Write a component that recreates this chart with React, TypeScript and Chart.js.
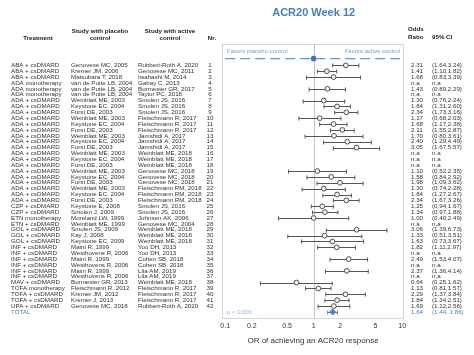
import { useEffect, useRef } from "react";
import { Chart, registerables } from "chart.js";

Chart.register(...registerables);

const FONT = '"Liberation Sans", Arial, sans-serif';

const chartTitle = "ACR20 Week 12";
const xAxisTitle = "OR of achieving an ACR20 response";
const xTickValues = [0.1, 0.2, 0.5, 1, 2, 5, 10];

const treatments = [
  "ABA + csDMARD", "ABA + csDMARD", "ABA + csDMARD",
  "ADA monotherapy", "ADA monotherapy", "ADA monotherapy",
  "ADA + csDMARD", "ADA + csDMARD", "ADA + csDMARD",
  "ADA + csDMARD", "ADA + csDMARD", "ADA + csDMARD",
  "ADA + csDMARD", "ADA + csDMARD", "ADA + csDMARD",
  "ADA + csDMARD", "ADA + csDMARD", "ADA + csDMARD",
  "ADA + csDMARD", "ADA + csDMARD", "ADA + csDMARD",
  "ADA + csDMARD", "ADA + csDMARD", "ADA + csDMARD",
  "CZP + csDMARD", "CZP + csDMARD",
  "ETN monotherapy", "ETN + csDMARD",
  "GOL + csDMARD", "GOL + csDMARD", "GOL + csDMARD",
  "INF + csDMARD", "INF + csDMARD", "INF + csDMARD",
  "INF + csDMARD", "INF + csDMARD", "INF + csDMARD",
  "MAV + csDMARD", "TOFA monotherapy", "TOFA + csDMARD",
  "TOFA + csDMARD", "UPA + csDMARD",
];

const placeboStudies = [
  "Genovese MC, 2005", "Kremer JM, 2006", "Matsubara T, 2018",
  "van de Putte LB, 2004", "van de Putte LB, 2004", "van de Putte LB, 2004",
  "Weinblatt ME, 2003", "Keystone EC, 2004", "Furst DE, 2003",
  "Weinblatt ME, 2003", "Keystone EC, 2004", "Furst DE, 2003",
  "Weinblatt ME, 2003", "Keystone EC, 2004", "Furst DE, 2003",
  "Weinblatt ME, 2003", "Keystone EC, 2004", "Furst DE, 2003",
  "Weinblatt ME, 2003", "Keystone EC, 2004", "Furst DE, 2003",
  "Weinblatt ME, 2003", "Keystone EC, 2004", "Furst DE, 2003",
  "Keystone E, 2008", "Smolen J, 2009",
  "Moreland LW, 1999", "Weinblatt ME, 1999",
  "Smolen JS, 2009", "Kay J, 2008", "Keystone EC, 2009",
  "Maini R, 1999", "Westhovens R, 2006", "Maini R, 1999",
  "Westhovens R, 2006", "Maini R, 1999", "Westhovens R, 2006",
  "Burmester GR, 2013", "Fleischmann R, 2012", "Kremer JM, 2012",
  "Kremer J, 2013", "Genovese MC, 2018",
];

const activeStudies = [
  "Rubbert-Roth A, 2020", "Genovese MC, 2011", "Iwahashi M, 2014",
  "Gabay C, 2013", "Burmester GR, 2017", "Taylor PC, 2018",
  "Smolen JS, 2016", "Smolen JS, 2016", "Smolen JS, 2016",
  "Fleischmann R, 2017", "Fleischmann R, 2017", "Fleischmann R, 2017",
  "Jamshidi A, 2017", "Jamshidi A, 2017", "Jamshidi A, 2017",
  "Weinblatt ME, 2018", "Weinblatt ME, 2018", "Weinblatt ME, 2018",
  "Genovese MC, 2018", "Genovese MC, 2018", "Genovese MC, 2018",
  "Fleischmann RM, 2018", "Fleischmann RM, 2018", "Fleischmann RM, 2018",
  "Smolen JS, 2016", "Smolen JS, 2016",
  "Johnsen AK, 2006", "Genovese MC, 2004",
  "Weinblatt ME, 2018", "Weinblatt ME, 2018", "Weinblatt ME, 2018",
  "Yoo DH, 2013", "Yoo DH, 2013", "Cohen SB, 2018",
  "Cohen SB, 2018", "Lila AM, 2019", "Lila AM, 2019",
  "Weinblatt ME, 2018", "Fleischmann R, 2017", "Fleischmann R, 2017",
  "Fleischmann R, 2017", "Rubbert-Roth A, 2020",
];

const oddsRatios: (number | null)[] = [
  2.31, 1.41, 1.68, null, 1.43, null, 1.30, 1.84, 2.34, 1.17,
  1.68, 2.11, 1.70, 2.40, 3.05, null, null, null, 1.10, 1.58,
  1.98, 1.30, 1.84, 2.34, 1.25, 1.34, 1.00, null, 3.06, 1.33,
  1.63, 1.82, null, 2.49, null, 2.37, null, 0.64, 1.13, 2.29,
  1.84, 1.69,
];
const ciLower: (number | null)[] = [
  1.64, 1.10, 0.83, null, 0.89, null, 0.76, 1.31, 1.73, 0.68,
  1.17, 1.55, 0.80, 1.29, 1.67, null, null, null, 0.52, 0.84,
  1.09, 0.74, 1.27, 1.67, 0.94, 0.97, 0.40, null, 1.39, 0.51,
  0.73, 1.11, null, 1.53, null, 1.36, null, 0.25, 0.81, 1.37,
  1.34, 1.12,
];
const ciUpper: (number | null)[] = [
  3.24, 1.82, 3.39, null, 2.29, null, 2.24, 2.60, 3.16, 2.03,
  2.38, 2.87, 3.61, 4.49, 5.57, null, null, null, 2.35, 2.92,
  3.62, 2.28, 2.67, 3.26, 1.67, 1.88, 2.49, null, 6.73, 3.51,
  3.67, 2.97, null, 4.07, null, 4.14, null, 1.62, 1.57, 3.84,
  2.51, 2.56,
];

const totalOR = 1.64;
const totalLower = 1.44;
const totalUpper = 1.86;
const pValueText = "p < 0.001";

const fmt = (v: number) => v.toFixed(2);

const TOTAL_ROW = treatments.length + 1;
const ARROW_ROW = -0.15;
const FAVORS_ROW = -1.45;
const TXT = 6.2;

const forestPlugin = {
  id: "forest",
  beforeDatasetsDraw(chart: any) {
    const { ctx, chartArea: a, scales } = chart;
    const x = scales.x;
    const y = scales.y;
    ctx.save();
    ctx.strokeStyle = "#d6d6d6";
    ctx.lineWidth = 1;
    ctx.strokeRect(a.left + 0.5, a.top + 0.5, a.width - 1, a.height - 1);
    const x1 = Math.round(x.getPixelForValue(1)) + 0.5;
    ctx.strokeStyle = "#c4c4c4";
    ctx.beginPath();
    ctx.moveTo(x1, a.top);
    ctx.lineTo(x1, a.bottom);
    ctx.stroke();

    const whisker = (lo: number, hi: number, row: number, color: string) => {
      const yp = Math.round(y.getPixelForValue(row)) + 0.5;
      const xl = x.getPixelForValue(lo);
      const xh = x.getPixelForValue(hi);
      ctx.strokeStyle = color;
      ctx.lineWidth = 1;
      ctx.beginPath();
      ctx.moveTo(xl, yp);
      ctx.lineTo(xh, yp);
      ctx.moveTo(xl, yp - 2);
      ctx.lineTo(xl, yp + 2);
      ctx.moveTo(xh, yp - 2);
      ctx.lineTo(xh, yp + 2);
      ctx.stroke();
    };
    oddsRatios.forEach((v, i) => {
      if (v == null) return;
      whisker(ciLower[i] as number, ciUpper[i] as number, i + 1, "#555555");
    });
    whisker(totalLower, totalUpper, TOTAL_ROW, "#4f81bd");
    ctx.restore();
  },
  afterDraw(chart: any) {
    const { ctx, chartArea: a, scales } = chart;
    const x = scales.x;
    const y = scales.y;
    ctx.save();
    ctx.textBaseline = "middle";

    ctx.fillStyle = "#4a7ebb";
    ctx.font = `bold 11px ${FONT}`;
    ctx.textAlign = "center";
    ctx.fillText(chartTitle, x.getPixelForValue(1), 13);

    ctx.fillStyle = "#222222";
    ctx.font = `bold ${TXT}px ${FONT}`;
    ctx.fillText("Treatment", 38, 38);
    ctx.fillText("Study with placebo", 100, 31);
    ctx.fillText("control", 100, 38);
    ctx.fillText("Study with active", 170, 31);
    ctx.fillText("control", 170, 38);
    ctx.fillText("Nr.", 212, 38);
    ctx.textAlign = "left";
    ctx.fillText("Odds", 408, 29);
    ctx.fillText("Ratio", 408, 37);
    ctx.fillText("95% CI", 432, 37);

    ctx.font = `6px ${FONT}`;
    ctx.fillStyle = "#6f9fd8";
    const fy = y.getPixelForValue(FAVORS_ROW);
    ctx.textAlign = "left";
    ctx.fillText("Favors placebo control", a.left + 5, fy);
    ctx.textAlign = "right";
    ctx.fillText("Favors active control", a.right - 4, fy);

    ctx.font = `${TXT}px ${FONT}`;
    ctx.fillStyle = "#333333";
    treatments.forEach((t, i) => {
      const yp = y.getPixelForValue(i + 1);
      ctx.textAlign = "left";
      ctx.fillText(t, 11, yp);
      ctx.fillText(placeboStudies[i], 71, yp);
      ctx.fillText(activeStudies[i], 138, yp);
      ctx.textAlign = "center";
      ctx.fillText(String(i + 1), 210, yp);
      ctx.textAlign = "left";
      const v = oddsRatios[i];
      if (v == null) {
        ctx.fillText("n.a", 411, yp);
        ctx.fillText("n.a", 432, yp);
      } else {
        ctx.fillText(fmt(v), 411, yp);
        ctx.fillText(`(${fmt(ciLower[i] as number)},${fmt(ciUpper[i] as number)})`, 432, yp);
      }
    });

    const ty = y.getPixelForValue(TOTAL_ROW);
    ctx.fillStyle = "#4f81bd";
    ctx.textAlign = "left";
    ctx.fillText("TOTAL", 11, ty);
    ctx.fillText(fmt(totalOR), 411, ty);
    ctx.fillText(`(${fmt(totalLower)}, ${fmt(totalUpper)})`, 432, ty);
    ctx.fillStyle = "#8fb1dd";
    ctx.font = `6px ${FONT}`;
    ctx.fillText(pValueText, a.left + 5, ty);
    ctx.restore();
  },
};

export default function App() {
  const canvasRef = useRef<HTMLCanvasElement | null>(null);

  useEffect(() => {
    const canvas = canvasRef.current;
    if (!canvas) return;
    const studyPoints = oddsRatios
      .map((v, i) => (v == null ? null : { x: v, y: i + 1 }))
      .filter((p) => p !== null) as { x: number; y: number }[];

    const chart = new Chart(canvas, {
      type: "scatter",
      data: {
        datasets: [
          {
            type: "line",
            data: [
              { x: 0.1, y: ARROW_ROW },
              { x: 9.5, y: ARROW_ROW },
            ],
            borderColor: "#5b9bd5",
            borderWidth: 1.4,
            borderDash: [10, 5],
            pointRadius: 0,
            showLine: true,
          } as any,
          {
            data: [{ x: 1, y: ARROW_ROW }],
            pointRadius: 2.5,
            backgroundColor: "#3f72b8",
            borderColor: "#3f72b8",
          },
          {
            data: studyPoints,
            pointStyle: "circle",
            pointRadius: 2.4,
            borderWidth: 1,
            borderColor: "#505050",
            backgroundColor: "#f2f2f2",
          },
          {
            data: [{ x: totalOR, y: TOTAL_ROW }],
            pointStyle: "rectRot",
            pointRadius: 3,
            borderWidth: 1,
            borderColor: "#4f81bd",
            backgroundColor: "#4f81bd",
          },
        ],
      },
      options: {
        responsive: false,
        animation: false,
        events: [],
        layout: { padding: { left: 222, right: 70, top: 44, bottom: 9 } },
        plugins: {
          legend: { display: false },
          tooltip: { enabled: false },
          title: { display: false },
        },
        scales: {
          x: {
            type: "logarithmic",
            min: 0.092,
            max: 10.5,
            afterBuildTicks: (axis: any) => {
              axis.ticks = xTickValues.map((v) => ({ value: v }));
            },
            grid: { display: false, drawTicks: false },
            border: { display: false },
            ticks: {
              autoSkip: false,
              maxRotation: 0,
              padding: 3,
              color: "#333333",
              font: { size: 7, family: FONT },
              callback: (v: any) => String(v),
            },
            title: {
              display: true,
              text: xAxisTitle,
              color: "#333333",
              font: { size: 8, family: FONT },
              padding: { top: 3, bottom: 0 },
            },
          },
          y: {
            type: "linear",
            reverse: true,
            min: -2.635,
            max: 44.2,
            display: false,
          },
        },
      },
      plugins: [forestPlugin],
    } as any);
    return () => chart.destroy();
  }, []);

  return (
    <div style={{ position: "absolute", left: 0, top: 0, width: 474, height: 355, background: "#ffffff" }}>
      <canvas ref={canvasRef} width={474} height={355} style={{ display: "block" }} />
    </div>
  );
}
